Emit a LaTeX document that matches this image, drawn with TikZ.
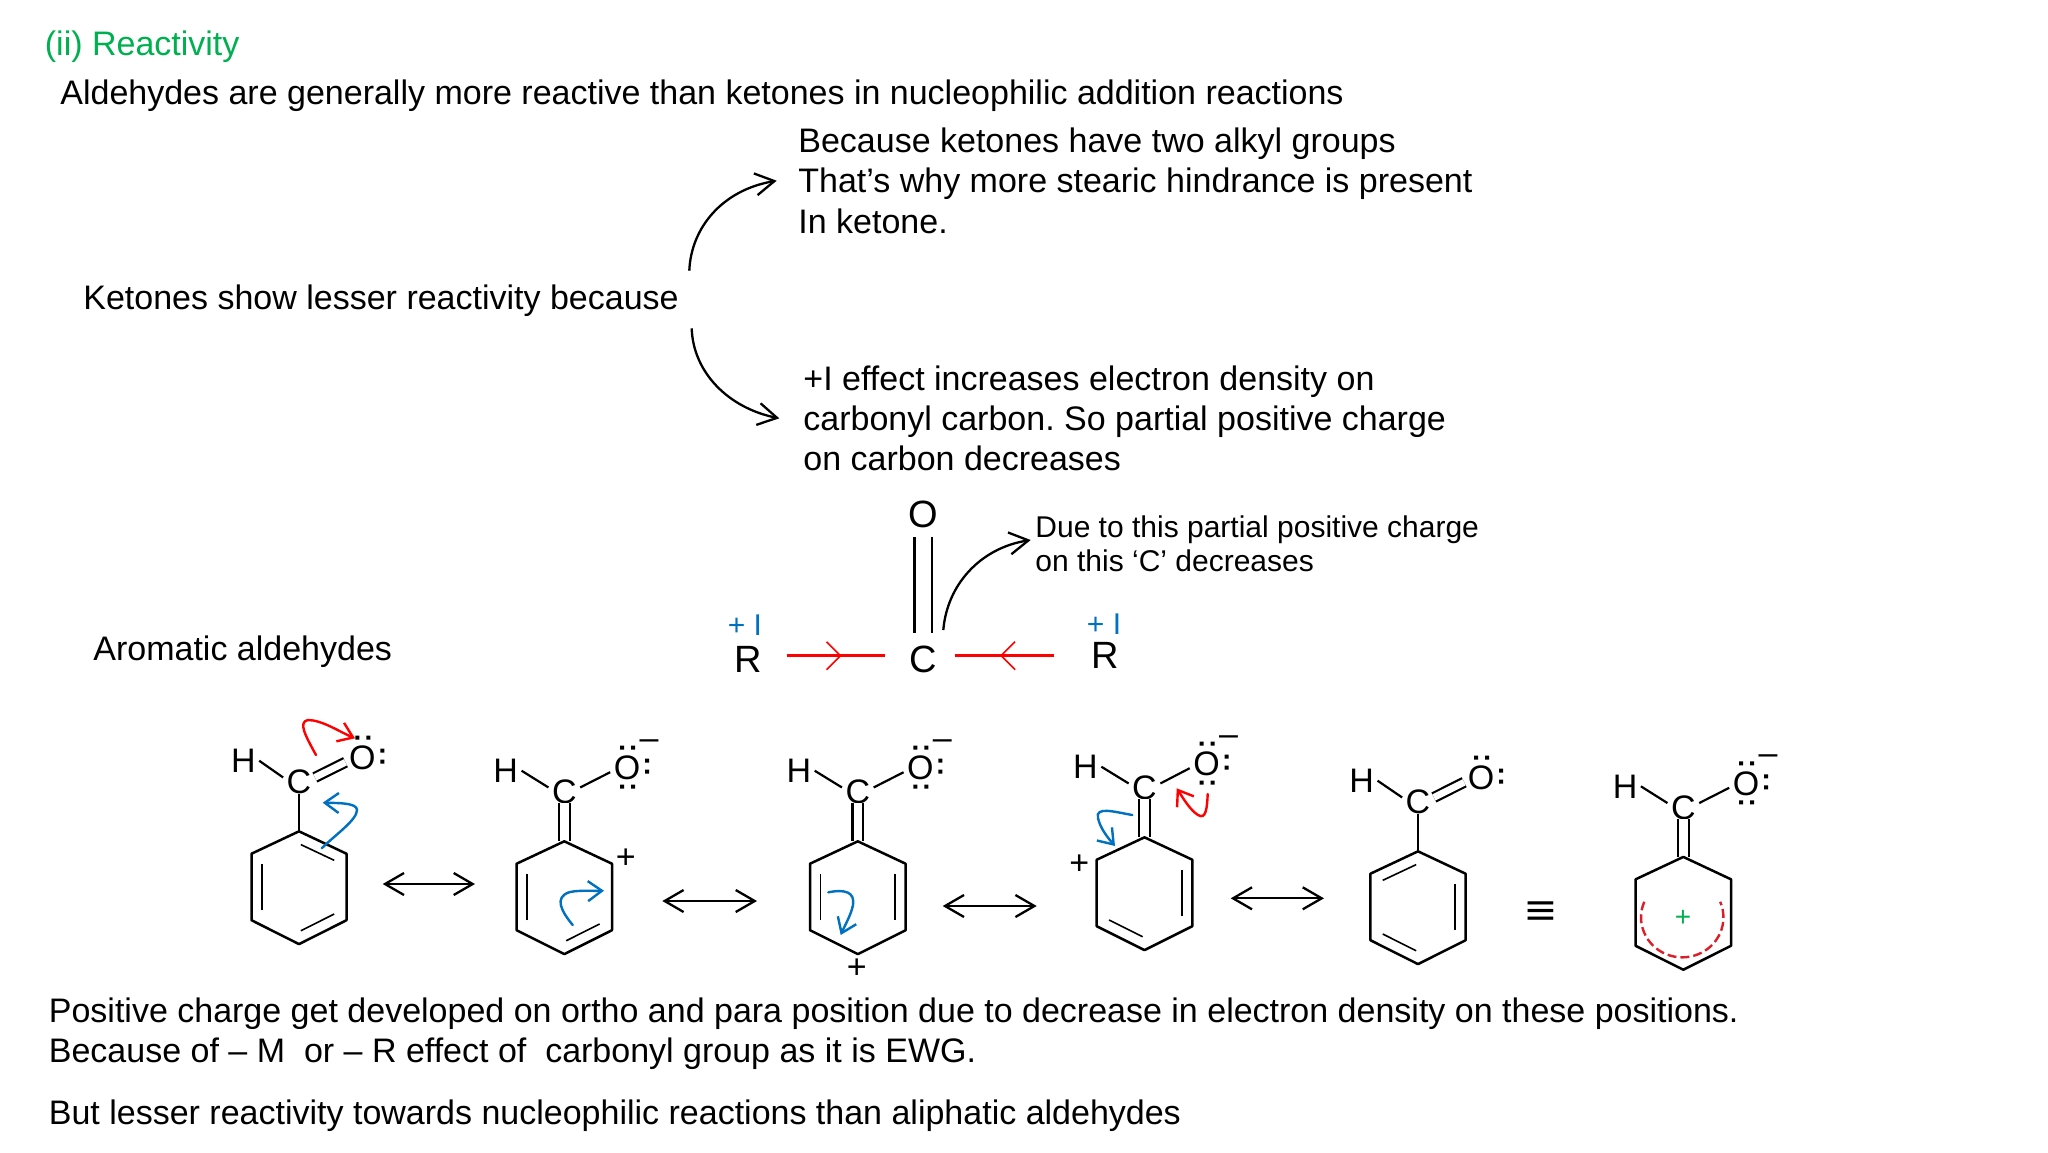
\documentclass[tikz,border=0pt]{standalone}
\usepackage{fontspec}
\setmainfont{Liberation Sans}
\usetikzlibrary{arrows.meta,calc}
\definecolor{headgreen}{RGB}{0,176,80}
\definecolor{iblue}{RGB}{0,112,192}
\definecolor{arcred}{RGB}{220,30,40}
\tikzset{
    body/.style={anchor=base west, inner sep=0pt, font=\fontsize{17}{20.05}\selectfont\frenchspacing},
    block/.style={body, align=left},
    atom/.style={inner sep=1.6pt, font=\fontsize{17}{17}\selectfont},
    bigatom/.style={inner sep=2pt, font=\fontsize{19}{19}\selectfont},
    plusI/.style={text=iblue, font=\fontsize{15}{15}\selectfont},
    bond/.style={line width=1.1pt},
    dbond/.style={line width=1.1pt, double, double distance=3.4pt},
    ringline/.style={line width=1.25pt, line join=round},
    inner/.style={line width=0.8pt},
    redline/.style={red, line width=1.4pt},
    redtip/.style={red, line width=0.8pt, -{Straight Barb[length=7pt,width=14pt]}},
    resarrow/.style={line width=1.15pt, <->, >={Straight Barb[length=9.5pt,width=11pt]}},
    curvearrow/.style={line width=1.15pt, ->, >={Straight Barb[length=9.5pt,width=11pt]}},
    hand/.style={line width=1.2pt, line cap=round, ->, >={Straight Barb[length=7pt,width=10pt]}}
}
\newcommand{\lonepair}[5]{\fill ([shift={(#2-2,#3-2)}]#1.center) rectangle +(4,4) ([shift={(#4-2,#5-2)}]#1.center) rectangle +(4,4);}
\begin{document}
\begin{tikzpicture}[x=0.5pt,y=-0.5pt]
        \useasboundingbox (0,0) rectangle (2048,1152);
        % text
        \node[body, text=headgreen] (title) at (44.5,55.6) {(ii) Reactivity};
        \node[body] (intro) at (60,104) {Aldehydes are generally more reactive than ketones in nucleophilic addition reactions};
        \node[block] (hindrance) at (798,233) {Because ketones have two alkyl groups\\That’s why more stearic hindrance is present\\In ketone.};
        \node[body] (reason) at (83,309) {Ketones show lesser reactivity because};
        \node[block] (inductive) at (803,470.7) {+I effect increases electron density on\\carbonyl carbon. So partial positive charge\\on carbon decreases};
        \node[body, align=left, font=\fontsize{15}{17}\selectfont] (note) at (1035,571.5) {Due to this partial positive charge\\on this ‘C’ decreases};
        \node[body] (aromatic) at (93,660.5) {Aromatic aldehydes};
        \node[body] (ortho) at (48.5,1022.7) {Positive charge get developed on ortho and para position due to decrease in electron density on these positions.};
        \node[body] (ewg) at (48.5,1062.7) {Because of – M~ or – R effect of~ carbonyl group as it is EWG.};
        \node[body] (lesser) at (48.5,1124.7) {But lesser reactivity towards nucleophilic reactions than aliphatic aldehydes};
        % branch arrows
        \coordinate (upstart) at (689.3,270.7);
        \coordinate (upend) at (776.7,180.7);
        \coordinate (downstart) at (691.7,328.3);
        \coordinate (downend) at (779.3,418.3);
        \draw[curvearrow] (upstart) .. controls (691,228) and (722,190) .. (upend);
        \draw[curvearrow] (downstart) .. controls (693,372) and (728,408) .. (downend);
        % carbonyl in the middle
        \node[bigatom] (Omid) at (923,514) {O};
        \node[bigatom] (Cmid) at (923,659) {C};
        \node[bigatom] (Rleft) at (748.3,659) {R};
        \node[bigatom] (Rright) at (1105,655) {R};
        \node[plusI] (Ileft) at (745,625) {+ I};
        \node[plusI] (Iright) at (1104,624) {+ I};
        \draw[dbond, double distance=7.5pt, shorten <=2.4pt, shorten >=4pt] (Omid) -- (Cmid);
        \coordinate (lA) at (786.7,655.7);
        \coordinate (lT) at (841.7,655.7);
        \coordinate (lB) at (885,655.7);
        \coordinate (rA) at (1054,655.7);
        \coordinate (rT) at (1000,655.7);
        \coordinate (rB) at (955,655.7);
        \draw[redline] (lA) -- (lB);
        \draw[redline] (rA) -- (rB);
        \draw[redtip] (lA) -- (lT);
        \draw[redtip] (rA) -- (rT);
        \coordinate (notestart) at (943.3,630);
        \coordinate (noteend) at (1030.7,540);
        \draw[curvearrow] (notestart) .. controls (947,585) and (980,548) .. (noteend);
        % molecules: id / C position / ring half width / H and O offset
        \foreach \id/\cx/\cy/\hw/\hx/\ox in {1/299/781.7/47.5/-55.7/63.3, 2/564.3/791.7/47.7/-58.6/62.7, 3/857.8/791.7/47.8/-59/62.6, 4/1144.5/787.7/47.8/-59/62, 5/1418/801.7/47.6/-56.3/63, 6/1683.3/807.3/47.7/-58.3/62.7} {
            \node[atom] (C\id) at (\cx,\cy) {C};
            \node[atom] (H\id) at (\cx+\hx,\cy-21) {H};
            \node[atom] (O\id) at (\cx+\ox,\cy-24) {O};
            \draw[bond] (H\id.east) -- (C\id.165);
            \lonepair{O\id}{-5}{-20}{6}{-20}
            \lonepair{O\id}{20}{-7}{20}{4}
            \coordinate (r\id1) at (\cx,\cy+49.6);
            \coordinate (r\id2) at (\cx+\hw,\cy+72);
            \coordinate (r\id3) at (\cx+\hw,\cy+138.5);
            \coordinate (r\id4) at (\cx,\cy+162.4);
            \coordinate (r\id5) at (\cx-\hw,\cy+138.5);
            \coordinate (r\id6) at (\cx-\hw,\cy+72);
            \coordinate (mid\id) at (\cx,\cy+106);
        }
        % neutral C=O
        \foreach \id in {1,5} {
            \draw[dbond] (C\id.15) -- (O\id.195);
            \draw[bond, shorten <=-1.6pt] (C\id.south) -- (r\id1);
        }
        % charged O
        \foreach \id in {2,3,4,6} {
            \draw[bond] (C\id.15) -- (O\id.195);
            \draw[dbond, double distance=4.2pt, shorten <=-2pt] (C\id.south) -- (r\id1);
            \lonepair{O\id}{-5}{19}{6}{19}
            \node[atom, inner sep=0pt] (minus\id) at ([shift={(22,-23.5)}]O\id.center) {–};
        }
        % rings with their inner lines
        \foreach \id/\inners in {1/{1/2,3/4,5/6}, 2/{3/4,5/6}, 3/{2/3,5/6}, 4/{2/3,4/5}, 5/{6/1,2/3,4/5}, 6/{}} {
            \draw[ringline] (r\id1) -- (r\id2) -- (r\id3) -- (r\id4) -- (r\id5) -- (r\id6) -- cycle;
            \foreach \a/\b in \inners {
                \draw[inner] ($($(r\id\a)!.05!(r\id\b)$)!.22!(mid\id)$) -- ($($(r\id\b)!.05!(r\id\a)$)!.22!(mid\id)$);
            }
        }
        \node[atom, font=\fontsize{17}{17}\selectfont] (plus2) at (625.7,859) {+};
        \node[atom, font=\fontsize{17}{17}\selectfont] (plus3) at (856.7,968.3) {+};
        \node[atom, font=\fontsize{17}{17}\selectfont] (plus4) at (1079.3,864.3) {+};
        % resonance arrows
        \coordinate (a1) at (382.7,884);
        \coordinate (b1) at (475,884);
        \coordinate (a2) at (662.3,901);
        \coordinate (b2) at (757,901);
        \coordinate (a3) at (942.7,906);
        \coordinate (b3) at (1036.7,906);
        \coordinate (a4) at (1230.7,898.3);
        \coordinate (b4) at (1324,898.3);
        \draw[resarrow] (a1) -- (b1);
        \draw[resarrow] (a2) -- (b2);
        \draw[resarrow] (a3) -- (b3);
        \draw[resarrow] (a4) -- (b4);
        \node[font=\fontsize{22}{22}\selectfont, xscale=1.2] (equiv) at (1540.7,914) {≡};
        % electron shift arrows
        \draw[hand, red] (316,755) .. controls (305,735) and (298,722) .. (308,720) .. controls (322,720) and (340,732) .. (355,738.3);
        \draw[hand, iblue] (321.7,848.3) .. controls (335,835) and (357,820) .. (357,810) .. controls (357,803) and (340,803) .. (322.7,802.7);
        \draw[hand, iblue] (572.7,925) .. controls (562,912) and (553,897) .. (570,892) .. controls (580,890) and (592,891) .. (604,890.7);
        \draw[hand, iblue] (828.3,892.3) .. controls (845,889) and (855,892) .. (853,905) .. controls (851,915) and (845,925) .. (840.7,935);
        \draw[hand, iblue] (1132.3,815) .. controls (1115,812) and (1095,806) .. (1098,818) .. controls (1100,828) and (1108,838) .. (1115,846);
        \draw[hand, red] (1207.7,794) .. controls (1207,808) and (1206,820) .. (1198,815) .. controls (1190,810) and (1183,798) .. (1176.7,788.3);
        % delocalised charge
        \draw[arcred, line width=1.2pt, dash pattern=on 4.5pt off 2pt] (1644.3,901.7) arc[start angle=157, end angle=383, x radius=20.6pt, y radius=20pt];
        \node[text=headgreen, font=\fontsize{14}{14}\selectfont] (plus6) at (1683,918.3) {+};
    \end{tikzpicture}
\end{document}
